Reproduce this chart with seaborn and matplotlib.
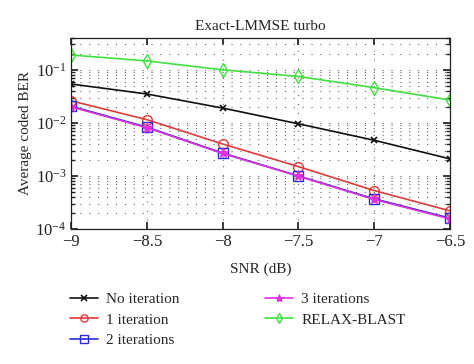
import numpy as np
import pandas as pd
import matplotlib
matplotlib.use("Agg")
import matplotlib.pyplot as plt
import seaborn as sns
from matplotlib.ticker import LogLocator, NullFormatter, FixedLocator

snr = [-9, -8.5, -8, -7.5, -7, -6.5]
no_iter = [0.054, 0.035, 0.019, 0.0096, 0.0047, 0.0021]
iter1 = [0.026, 0.0115, 0.0040, 0.0015, 0.00053, 0.00022]
iter2 = [0.0206, 0.0083, 0.0027, 0.0010, 0.00037, 0.00016]
iter3 = [0.0200, 0.0081, 0.00265, 0.00099, 0.00036, 0.000155]
relax = [0.19, 0.147, 0.10, 0.075, 0.046, 0.027]

labels = ["No iteration", "1 iteration", "2 iterations", "3 iterations", "RELAX-BLAST"]
series = [no_iter, iter1, iter2, iter3, relax]
colors = ["#111111", "#e03a3a", "#2a2ad8", "#e030e0", "#40e040"]
markers = ["x", "o", "s", "*", "d"]

sns.set_theme(style="ticks")
plt.rcParams['font.family'] = ['Liberation Serif', 'DejaVu Serif']
plt.rcParams['mathtext.fontset'] = 'stix'

fig = plt.figure(figsize=(4.74, 3.64), dpi=100)
ax = fig.add_axes([0.150, 0.371, 0.799, 0.525])

for lab, vals, c, m in zip(labels, series, colors, markers):
    df = pd.DataFrame({"SNR": snr, "BER": vals})
    kw = dict(markerfacecolor="none", markeredgecolor=c, markersize=7, markeredgewidth=1.0)
    if m == "*":
        kw = dict(markerfacecolor=c, markeredgecolor=c, markersize=8, markeredgewidth=0.8)
    if m == "x":
        kw = dict(markeredgecolor=c, markersize=5, markeredgewidth=1.2)
    sns.lineplot(data=df, x="SNR", y="BER", ax=ax, color=c, marker=m, label=lab,
                 linewidth=1.2, **kw)

ax.set_yscale("log")
ax.set_xlim(-9, -6.5)
ax.set_ylim(1e-4, 0.4)
ax.xaxis.set_major_locator(FixedLocator(snr))
ax.set_xticklabels(["\u22129", "\u22128.5", "\u22128", "\u22127.5", "\u22127", "\u22126.5"])
ax.yaxis.set_major_locator(LogLocator(base=10, numticks=10))
ax.yaxis.set_minor_locator(LogLocator(base=10, subs=np.arange(2, 10), numticks=20))
ax.yaxis.set_minor_formatter(NullFormatter())

ax.grid(True, which="major", axis="both", color="#666666", linestyle=(0, (1, 7)), linewidth=0.8)
ax.grid(True, which="minor", axis="y", color="#666666", linestyle=(0, (1, 7)), linewidth=0.8)

ax.tick_params(which="both", direction="in", top=True, right=True, labelsize=12, colors="#222222")
ax.tick_params(which="major", length=5)
ax.tick_params(which="minor", length=3)
for s in ax.spines.values():
    s.set_color("#222222")
    s.set_linewidth(0.9)

ax.set_title("Exact-LMMSE turbo", fontsize=11, pad=6)
ax.set_xlabel("SNR (dB)", fontsize=11, labelpad=9)
ax.set_ylabel("Average coded BER", fontsize=11, labelpad=2)

handles, labs = ax.get_legend_handles_labels()
ax.legend(handles, labs,
          loc="upper left", bbox_to_anchor=(-0.038, -0.26), ncol=2, frameon=False,
          fontsize=11, handlelength=1.8, columnspacing=5.6, labelspacing=0.45,
          handletextpad=0.55, markerscale=0.75)

fig.savefig("out.png", dpi=100)
